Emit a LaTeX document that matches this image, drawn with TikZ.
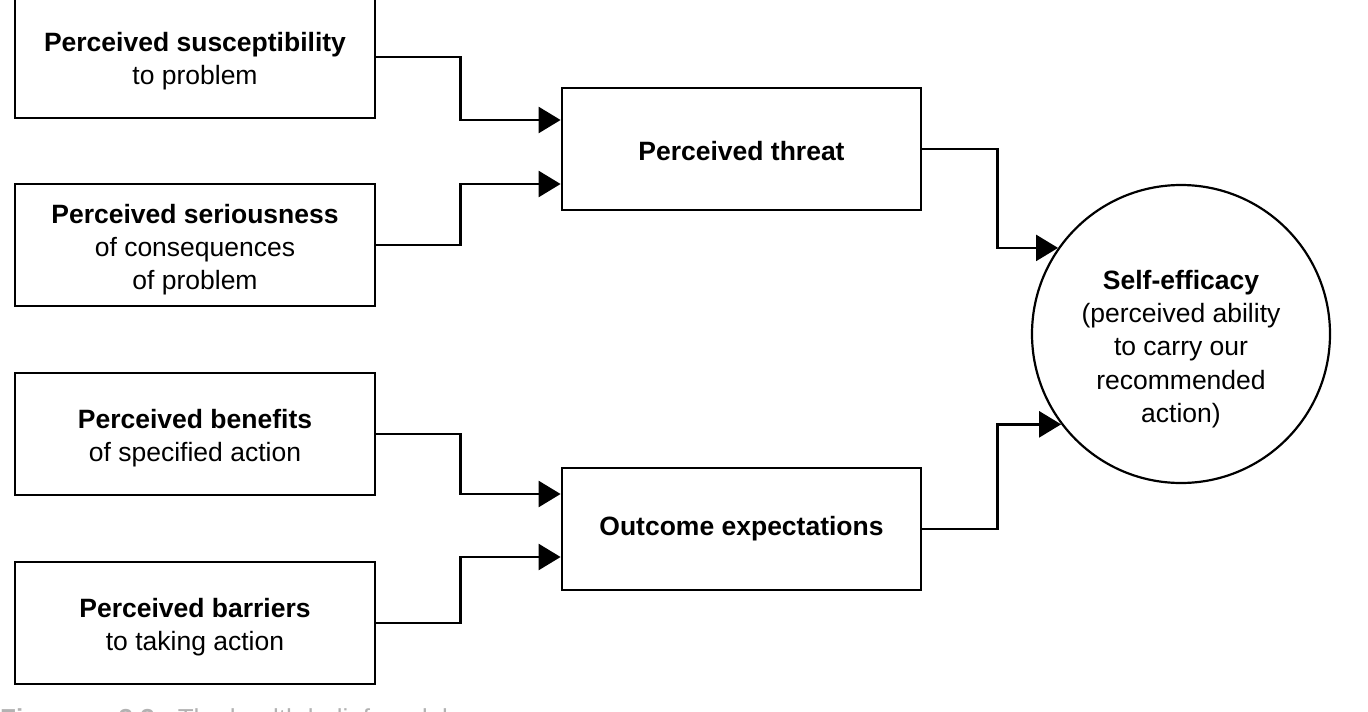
\documentclass[tikz,border=0pt]{standalone}
\usepackage{fontspec}
\setmainfont{Liberation Sans}
\usetikzlibrary{arrows.meta,calc}
\newcommand{\topstrut}{\rule{0pt}{27.5pt}}
\begin{document}
\begin{tikzpicture}[x=1pt,y=-1pt,
  box/.style={draw, line width=2.8pt, minimum width=360pt, minimum height=122pt,
    align=center, font=\fontsize{26.5}{33}\selectfont, inner sep=0pt},
  link/.style={line width=2.5pt},
  conn/.style={line width=2.5pt, -{Triangle[length=22pt,width=26pt]}},
  txt/.style={align=center, font=\fontsize{26.5}{33.3}\selectfont, inner sep=0pt}]
\useasboundingbox (0,0) rectangle (1368,712);

\node[box] (s1) at (195,57) {\topstrut\textbf{Perceived susceptibility}\\to problem};
\node[box] (s2) at (195,245) {\topstrut\textbf{Perceived seriousness}\\of consequences\\of problem};
\node[box] (s3) at (195,434) {\topstrut\textbf{Perceived benefits}\\of specified action};
\node[box] (s4) at (195,623) {\topstrut\textbf{Perceived barriers}\\to taking action};

\node[box, minimum width=359pt] (threat) at (741.5,149) {\rule{0pt}{24pt}\textbf{Perceived threat}};
\node[box, minimum width=359pt] (outcome) at (741.5,529) {\textbf{Outcome expectations}};

\node[draw, circle, line width=2.2pt, minimum size=298pt, inner sep=0pt] (circ) at (1181,334) {};
\node[txt] (circtext) at (1181,349) {\textbf{Self-efficacy}\\(perceived ability\\to carry our\\recommended\\action)};

\draw[conn] (s1.east) -- ++(84,0) |- ($(threat.west)+(0,-29)$);
\draw[conn] (s2.east) -- ++(84,0) |- ($(threat.west)+(0,35)$);
\draw[conn] (s3.east) -- ++(84,0) |- ($(outcome.west)+(0,-35)$);
\draw[conn] (s4.east) -- ++(84,0) |- ($(outcome.west)+(0,28)$);

\draw[conn] (threat.east) -- ++(75,0) |- (circ.145);
\draw[conn] (outcome.east) -- ++(75,0) |- (circ.217.6);

\node[anchor=base west, inner sep=0pt, text=gray!60, font=\fontsize{26}{30}\selectfont] (cap) at (0,727)
  {\textbf{Figure}\hspace{39pt}\textbf{3.3}\hspace{23pt}The health belief model};
\end{tikzpicture}
\end{document}
